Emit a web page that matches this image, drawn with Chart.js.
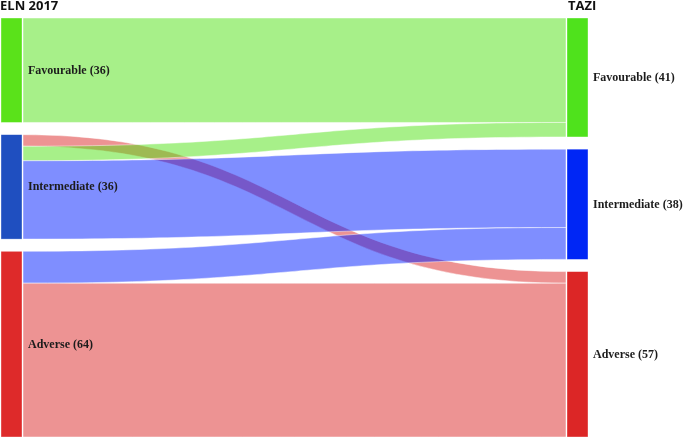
<!DOCTYPE html>
<html>
<head>
<meta charset="utf-8">
<script src="https://cdn.jsdelivr.net/npm/chart.js@4.4.1/dist/chart.umd.min.js"></script>
<style>
html,body{margin:0;padding:0;background:#fff;}
#c{display:block;}
</style>
</head>
<body>
<canvas id="c" width="685" height="438"></canvas>
<script>
// ---- data ----
const columnTitles = ["ELN 2017", "TAZI"];
const categories = ["Favourable", "Intermediate", "Adverse"];
// links: source category index (ELN 2017) -> target category index (TAZI)
const linkSource = [0, 1, 1, 1, 2, 2];
const linkTarget = [0, 2, 0, 1, 1, 2];
const linkValue  = [36, 4, 5, 27, 11, 53];

// ---- style ----
const leftNodeColors  = ["#5ae21a", "#1f4fc0", "#de2a2a"];
const rightNodeColors = ["#4fe21c", "#0026f5", "#dc2626"];
const linkColors      = ["rgba(80,226,20,0.5)", "rgba(0,30,255,0.5)", "rgba(220,40,40,0.5)"];
const NODE_W = 21;
const GAP = 4.2; // gap between nodes, in value units

function sum(a){return a.reduce((s,v)=>s+v,0);}
const leftTotals = categories.map((_,i)=>sum(linkValue.filter((v,k)=>linkSource[k]===i)));
const rightTotals = categories.map((_,i)=>sum(linkValue.filter((v,k)=>linkTarget[k]===i)));
const yMax = sum(leftTotals) + GAP*(categories.length-1);

function stack(tot){
  const out=[]; let y=0;
  tot.forEach(t=>{out.push([y,y+t]); y+=t+GAP;});
  return out;
}
const leftPos = stack(leftTotals);
const rightPos = stack(rightTotals);

const sankeyPlugin = {
  id:'sankey',
  afterDraw(chart){
    const ctx = chart.ctx, xs = chart.scales.x, ys = chart.scales.y;
    const xL = xs.getPixelForValue(0), xR = xs.getPixelForValue(1);
    const lx1 = xL + NODE_W + 1, rx0 = xR - NODE_W - 1;
    const srcOff = leftPos.map(p=>p[0]);
    const tgtOff = rightPos.map(p=>p[0]);
    ctx.save();
    // links
    linkValue.forEach((v,k)=>{
      const s=linkSource[k], t=linkTarget[k];
      const s0=ys.getPixelForValue(srcOff[s]), s1=ys.getPixelForValue(srcOff[s]+v);
      const t0=ys.getPixelForValue(tgtOff[t]), t1=ys.getPixelForValue(tgtOff[t]+v);
      srcOff[s]+=v; tgtOff[t]+=v;
      const xm = (lx1+rx0)/2;
      ctx.beginPath();
      ctx.moveTo(lx1,s0);
      ctx.bezierCurveTo(xm,s0,xm,t0,rx0,t0);
      ctx.lineTo(rx0,t1);
      ctx.bezierCurveTo(xm,t1,xm,s1,lx1,s1);
      ctx.closePath();
      ctx.fillStyle = linkColors[t];
      ctx.fill();
      ctx.strokeStyle='rgba(255,255,255,0.8)';
      ctx.lineWidth=0.6;
      ctx.stroke();
    });
    // nodes
    function drawNodes(pos, x, colors){
      pos.forEach((p,i)=>{
        const y0=ys.getPixelForValue(p[0]), y1=ys.getPixelForValue(p[1]);
        ctx.fillStyle=colors[i];
        ctx.fillRect(x, y0, NODE_W, y1-y0);
        ctx.strokeStyle='rgba(255,255,255,0.6)';
        ctx.lineWidth=0.6;
        ctx.strokeRect(x, y0, NODE_W, y1-y0);
      });
    }
    drawNodes(leftPos, xL, leftNodeColors);
    drawNodes(rightPos, xR-NODE_W, rightNodeColors);
    // labels
    ctx.font = 'bold 12px "Liberation Serif", "Times New Roman", serif';
    ctx.fillStyle = '#1c1c1c';
    ctx.textBaseline = 'middle';
    ctx.textAlign = 'left';
    leftPos.forEach((p,i)=>{
      const yc=(ys.getPixelForValue(p[0])+ys.getPixelForValue(p[1]))/2;
      ctx.fillText(categories[i]+' ('+leftTotals[i]+')', xL+NODE_W+6, yc+0.5);
    });
    rightPos.forEach((p,i)=>{
      const yc=(ys.getPixelForValue(p[0])+ys.getPixelForValue(p[1]))/2;
      ctx.fillText(categories[i]+' ('+rightTotals[i]+')', xR+5, yc+0.5);
    });
    // column titles
    ctx.font = 'bold 13px "Open Sans", "DejaVu Sans", sans-serif';
    ctx.fillStyle = '#111';
    ctx.textBaseline = 'alphabetic';
    ctx.fillText(columnTitles[0], xL-1, 10);
    ctx.fillText(columnTitles[1], xR-NODE_W+1, 10);
    ctx.restore();
  }
};

new Chart(document.getElementById('c'), {
  type:'scatter',
  data:{datasets:[{data:[]}]},
  options:{
    responsive:false,
    animation:false,
    events:[],
    layout:{padding:{left:1,right:97,top:18,bottom:1}},
    plugins:{legend:{display:false},tooltip:{enabled:false},title:{display:false}},
    scales:{
      x:{type:'linear',min:0,max:1,display:false},
      y:{type:'linear',min:0,max:yMax,reverse:true,display:false}
    }
  },
  plugins:[sankeyPlugin]
});
</script>
</body>
</html>
